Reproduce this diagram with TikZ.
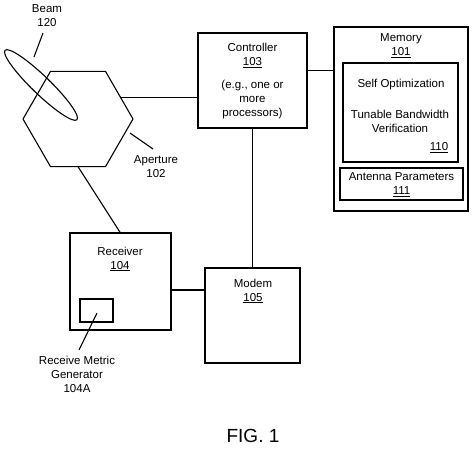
\documentclass[tikz,border=0pt]{standalone}
\usepackage{fontspec}
\setmainfont{Liberation Sans}
\usetikzlibrary{shapes,arrows,positioning}

\begin{document}
\begin{tikzpicture}[x=1pt,y=-1pt,line width=1.1pt,
	box/.style={draw,outer sep=0pt,inner sep=0pt},
	txt/.style={align=center,inner sep=0pt,font=\fontsize{11.5}{14}\selectfont}]
	\useasboundingbox (0,0) rectangle (474,449);

	% blocks
	\node[box,regular polygon,regular polygon sides=6,minimum size=110pt] (Ap) at (78,119) {};
	\node[box,ellipse,minimum width=100pt,minimum height=18pt,rotate=-44] (Bm) at (41,85) {};
	\node[box,minimum width=109pt,minimum height=95pt] (Ctl) at (252.5,80.5) {};
	\node[box,minimum width=134pt,minimum height=184pt] (Mem) at (401,119) {};
	\node[box,minimum width=115pt,minimum height=99pt] (Opt) at (400.5,112.5) {};
	\node[box,minimum width=123pt,minimum height=32pt] (Par) at (401.5,184) {};
	\node[box,minimum width=101pt,minimum height=97pt] (Rcv) at (120.5,281.5) {};
	\node[box,minimum width=33pt,minimum height=23pt] (Gen) at (96.5,310.5) {};
	\node[box,minimum width=95pt,minimum height=95pt] (Mdm) at (252.5,315.5) {};

	% texts
	\node[txt] (tCtl) at (252.5,81.5) {Controller\\\underline{103}\\[9pt](e.g., one or\\more\\processors)};
	\node[txt] (tMem) at (401,46) {Memory\\\underline{101}};
	\node[txt] (tOpt) at (401,85) {Self Optimization};
	\node[txt] (tTun) at (400,121.5) {Tunable Bandwidth\\Verification};
	\node[txt] (tNum) at (439,148) {\underline{110}};
	\node[txt] (tPar) at (401.5,184.5) {Antenna Parameters\\\underline{111}};
	\node[txt] (tRcv) at (120,259) {Receiver\\\underline{104}};
	\node[txt] (tMdm) at (253,291) {Modem\\\underline{105}};
	\node[txt] (tGen) at (77,374) {Receive Metric\\Generator\\104A};
	\node[txt] (tBm) at (47,16) {Beam\\120};
	\node[txt] (tAp) at (156,167) {Aperture\\102};
	\node[inner sep=0pt,font=\fontsize{19}{22}\selectfont] (Fig) at (253,436) {FIG. 1};

	% leaders
	\coordinate (b1) at (43,33);
	\coordinate (b2) at (34,57);
	\coordinate (a1) at (130,133);
	\coordinate (a2) at (153,149);
	\coordinate (g1) at (97,313);
	\coordinate (g2) at (79,350);
	\draw (b1) -- (b2) (a1) -- (a2) (g1) -- (g2);

	% links
	\draw (Ap.27.6) -- (Ap.27.6 -| Ctl.west);
	\draw ([yshift=10pt]Ctl.east) -- ([yshift=10pt]Ctl.east -| Mem.west);
	\draw (Ap.-90) -- (Rcv.north);
	\draw (Ctl.south) -- (Mdm.north);
	\draw ([yshift=-8.5pt]Rcv.east) -- ([yshift=-8.5pt]Rcv.east -| Mdm.west);
\end{tikzpicture}
\end{document}
